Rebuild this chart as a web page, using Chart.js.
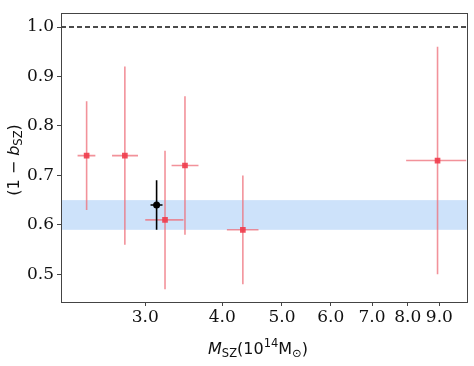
<!DOCTYPE html>
<html lang="en">
  <head>
    <meta charset="UTF-8" />
    <title>Bias vs SZ mass</title>
    <style>
      * { margin: 0; padding: 0; }
      body { background: #fff; }
      .wrap { width: 474px; height: 366px; }
    </style>
  </head>
  <body>
    <div class="wrap">
      <canvas id="myChart" width="474" height="366"></canvas>
    </div>

    <script src="https://cdn.jsdelivr.net/npm/chart.js@4/dist/chart.umd.min.js"></script>
    <script>
      // Cluster bins: SZ mass (1e14 Msun) with x range, and (1 - b_SZ) with error
      const massSZ = [2.41, 2.78, 3.23, 3.48, 4.32, 8.94]
      const massLo = [2.33, 2.65, 3.0, 3.31, 4.07, 7.95]
      const massHi = [2.49, 2.92, 3.46, 3.66, 4.58, 9.95]
      const biasVal = [0.74, 0.74, 0.61, 0.72, 0.59, 0.73]
      const biasErr = [0.11, 0.18, 0.14, 0.14, 0.11, 0.23]

      // Reference point (black)
      const refMass = [3.13]
      const refLo = [3.06]
      const refHi = [3.2]
      const refBias = [0.64]
      const refErr = [0.05]

      // Shaded band and the unity line
      const bandRange = [0.59, 0.65]
      const unityLine = 1.0

      const xTicks = [3, 4, 5, 6, 7, 8, 9]
      const yTicks = [0.5, 0.6, 0.7, 0.8, 0.9, 1.0]

      const ctx = document.getElementById('myChart')

      const redFill = 'rgba(240, 60, 75, 0.9)'
      const redBar = 'rgba(238, 110, 120, 0.75)'

      // band + dashed line + error bars, drawn under the markers
      const extras = {
        id: 'extras',
        beforeDatasetsDraw(chart) {
          const { ctx, chartArea: a, scales: { x, y } } = chart
          ctx.save()
          ctx.beginPath()
          ctx.rect(a.left, a.top, a.right - a.left, a.bottom - a.top)
          ctx.clip()

          // blue band
          const yb1 = y.getPixelForValue(bandRange[1])
          const yb0 = y.getPixelForValue(bandRange[0])
          ctx.fillStyle = 'rgba(205, 226, 250, 1)'
          ctx.fillRect(a.left, yb1, a.right - a.left, yb0 - yb1)

          // dashed line at 1.0
          const yl = y.getPixelForValue(unityLine)
          ctx.strokeStyle = '#111'
          ctx.lineWidth = 1.5
          ctx.setLineDash([5, 3])
          ctx.beginPath()
          ctx.moveTo(a.left, yl)
          ctx.lineTo(a.right, yl)
          ctx.stroke()
          ctx.setLineDash([])

          const bars = (xs, lo, hi, ys, err, color, w) => {
            ctx.strokeStyle = color
            ctx.lineWidth = w
            xs.forEach((m, i) => {
              const px = x.getPixelForValue(m)
              const py = y.getPixelForValue(ys[i])
              ctx.beginPath()
              ctx.moveTo(px, y.getPixelForValue(ys[i] + err[i]))
              ctx.lineTo(px, y.getPixelForValue(ys[i] - err[i]))
              ctx.moveTo(x.getPixelForValue(lo[i]), py)
              ctx.lineTo(x.getPixelForValue(hi[i]), py)
              ctx.stroke()
            })
          }
          bars(massSZ, massLo, massHi, biasVal, biasErr, redBar, 1.6)
          bars(refMass, refLo, refHi, refBias, refErr, '#000', 1.6)
          ctx.restore()
        },
        afterDraw(chart) {
          const { ctx, chartArea: a } = chart
          ctx.save()
          // frame on all four sides
          ctx.strokeStyle = '#444'
          ctx.lineWidth = 1
          ctx.strokeRect(Math.round(a.left) + 0.5, Math.round(a.top) + 0.5,
            Math.round(a.right - a.left), Math.round(a.bottom - a.top))

          ctx.fillStyle = '#111'
          ctx.textBaseline = 'alphabetic'

          // pieces: [text, font size, italic, baseline shift]
          const drawPieces = (pieces, cx, cy) => {
            let total = 0
            pieces.forEach((p) => {
              ctx.font = (p[2] ? 'italic ' : '') + p[1] + 'px "DejaVu Sans"'
              total += ctx.measureText(p[0]).width
            })
            let cur = cx - total / 2
            pieces.forEach((p) => {
              ctx.font = (p[2] ? 'italic ' : '') + p[1] + 'px "DejaVu Sans"'
              ctx.fillText(p[0], cur, cy + p[3])
              cur += ctx.measureText(p[0]).width
            })
          }

          // x label
          drawPieces([
            ['M', 16, true, 0],
            ['SZ', 11.5, false, 3],
            ['(10', 16, false, 0],
            ['14', 11.5, false, -7],
            ['M', 16, false, 0],
            ['\u2299', 11.5, false, 3],
            [')', 16, false, 0]
          ], 258, 354)

          // y label, rotated
          ctx.translate(19, 160)
          ctx.rotate(-Math.PI / 2)
          drawPieces([
            ['(1 \u2212 ', 16, false, 0],
            ['b', 16, true, 0],
            ['SZ', 11.5, false, 3],
            [')', 16, false, 0]
          ], 0, 0)
          ctx.restore()
        }
      }

      const tickFont = { family: '"DejaVu Serif"', size: 17 }

      new Chart(ctx, {
        type: 'scatter',
        data: {
          datasets: [
            {
              label: 'bins',
              data: massSZ.map((m, i) => ({ x: m, y: biasVal[i] })),
              pointStyle: 'rect',
              pointRadius: 4,
              backgroundColor: redFill,
              borderColor: redFill,
              borderWidth: 0
            },
            {
              label: 'reference',
              data: refMass.map((m, i) => ({ x: m, y: refBias[i] })),
              pointStyle: 'circle',
              pointRadius: 3.5,
              backgroundColor: '#000',
              borderColor: '#000',
              borderWidth: 0
            }
          ]
        },
        options: {
          responsive: false,
          animation: false,
          layout: { padding: { left: 0, right: 7, top: 6, bottom: 0 } },
          plugins: {
            legend: { display: false },
            tooltip: { enabled: false }
          },
          scales: {
            x: {
              type: 'logarithmic',
              min: 2.19,
              max: 9.98,
              afterBuildTicks: (s) => { s.ticks = xTicks.map((v) => ({ value: v })) },
              afterFit: (s) => { s.height = 64 },
              grid: { drawOnChartArea: false, tickLength: 4, color: '#444' },
              border: { display: false },
              ticks: {
                font: tickFont,
                color: '#111',
                padding: 1,
                maxRotation: 0,
                autoSkip: false,
                callback: (v) => Number(v).toFixed(1)
              }
            },
            y: {
              min: 0.444,
              max: 1.028,
              afterBuildTicks: (s) => { s.ticks = yTicks.map((v) => ({ value: v })) },
              afterFit: (s) => { s.width = 61 },
              grid: { drawOnChartArea: false, tickLength: 4, color: '#444' },
              border: { display: false },
              ticks: {
                font: tickFont,
                color: '#111',
                padding: 3,
                callback: (v) => Number(v).toFixed(1)
              }
            }
          }
        },
        plugins: [extras]
      })
    </script>
  </body>
</html>
